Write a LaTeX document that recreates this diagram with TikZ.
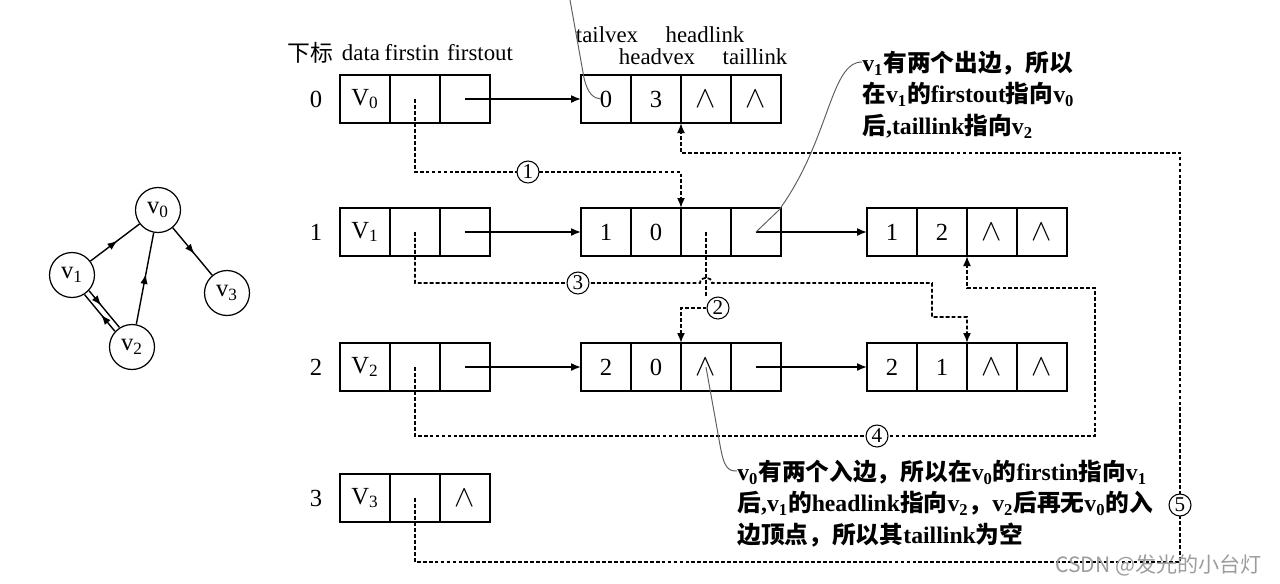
\documentclass[tikz,border=0pt]{standalone}
\usepackage{fontspec}
\setmainfont{Liberation Serif}
\newfontfamily\cjk{Noto Sans CJK SC}
\usetikzlibrary{positioning,arrows.meta,decorations.markings}
\definecolor{notegray}{HTML}{5E5E5E}
\definecolor{markgray}{HTML}{9C9C9C}
\newcommand{\zh}[1]{{\cjk #1}}
\newcommand{\nullp}{{\fontsize{17}{17}\selectfont$\wedge$}}
\tikzset{
  cell/.style={draw,line width=0.9pt,minimum width=1cm,minimum height=0.96cm,
    inner sep=0pt,outer sep=0pt,font=\fontsize{14}{16}\selectfont},
  idx/.style={font=\fontsize{14}{16}\selectfont},
  head/.style={inner sep=0pt,font=\fontsize{13}{15}\selectfont},
  ptr/.style={-{Latex[length=2mm,width=1.6mm]},line width=0.9pt},
  link/.style={line width=1pt,dash pattern=on 2.2pt off 1.2pt},
  tip/.style={-{Latex[length=2mm,width=1.6mm]}},
  num/.style={circle,draw,fill=white,line width=0.6pt,inner sep=0pt,
    minimum size=0.44cm,font=\fontsize{12}{12}\selectfont},
  callout/.style={draw=notegray,line width=0.55pt},
  note/.style={align=left,anchor=north west,inner sep=0pt,
    font=\fontsize{13.5}{17.8}\selectfont\bfseries},
  gnode/.style={circle,draw,line width=0.7pt,minimum size=0.9cm,inner sep=0pt,
    font=\fontsize{14}{16}\selectfont},
  gedge/.style={line width=0.8pt},
  midarrow/.style={postaction={decorate},decoration={markings,
    mark=at position #1 with {\arrow{Latex[length=2mm,width=1.5mm]}}}},
  midarrow/.default=0.55
}
\begin{document}
\begin{tikzpicture}[x=0.02cm,y=-0.02cm]
  \useasboundingbox (0,0) rectangle (1280,583);
  \node[gnode] (v0) at (158,210) {v\textsubscript{0}};
  \node[gnode] (v1) at (72,275) {v\textsubscript{1}};
  \node[gnode] (v2) at (132,347) {v\textsubscript{2}};
  \node[gnode] (v3) at (227,293) {v\textsubscript{3}};
  \draw[gedge,midarrow] (v1) -- (v0);
  \draw[gedge,midarrow] (v2) -- (v0);
  \draw[gedge,midarrow] (v0) -- (v3);
  \draw[gedge,midarrow=0.4] ([shift={(2.3,-1.9)}]v1.-50) -- ([shift={(2.3,-1.9)}]v2.130);
  \draw[gedge,midarrow=0.45] ([shift={(-2.3,1.9)}]v2.130) -- ([shift={(-2.3,1.9)}]v1.-50);

  \node[head] (hsub) at (310,53) {\zh{下标}};
  \node[head] (hdata) at (361,53) {data};
  \node[head] (hin) at (412,53) {firstin};
  \node[head] (hout) at (480,53) {firstout};
  \node[head] (htv) at (607,35) {tailvex};
  \node[head] (hhl) at (705,35) {headlink};
  \node[head] (hhv) at (657,57) {headvex};
  \node[head] (htl) at (755,57) {taillink};

  \foreach \r/\y/\c in {0/99/{},1/232/{},2/367/{},3/498/\nullp}{
    \node[idx] (ix\r) at (316,\y) {\r};
    \node[cell] (fd\r) at (365,\y) {V\textsubscript{\r}};
    \node[cell,right=0pt of fd\r] (fi\r) {};
    \node[cell,right=0pt of fi\r] (fo\r) {\c};
  }
  \foreach \n/\xx/\y/\cA/\cB/\cC/\cD in {a0/606/99/0/3/\nullp/\nullp,
      a1/606/232/1/0/{}/{}, a2/606/367/2/0/\nullp/{},
      b1/892/232/1/2/\nullp/\nullp, b2/892/367/2/1/\nullp/\nullp}{
    \node[cell] (\n-1) at (\xx,\y) {\cA};
    \node[cell,right=0pt of \n-1] (\n-2) {\cB};
    \node[cell,right=0pt of \n-2] (\n-3) {\cC};
    \node[cell,right=0pt of \n-3] (\n-4) {\cD};
  }
  \foreach \r in {0,1,2} \draw[ptr] (fo\r.center) -- (a\r-1.west);
  \foreach \r in {1,2} \draw[ptr] (a\r-4.center) -- (b\r-1.west);

  \node[num] (n2) at (718,308) {2};
  \draw[link,tip] (fi0.center) |- (a1-2.north east |- 0,172) -- (a1-2.north east);
  \draw[link] (a1-3.center) -- (a1-3.center |- n2.north);
  \draw[link,tip] (n2.west) -| (a2-2.north east);
  \draw[link,tip] (fi1.center) |- (700,283) .. controls (700,276) and (712,276) .. (712,283)
    -| (932,317) -- (b2-2.north east |- 0,317) -- (b2-2.north east);
  \draw[link,tip] (fi2.center) |- (1095,436) |- (b1-2.south east |- 0,288) -- (b1-2.south east);
  \draw[link,tip] (fi3.center) |- (1180,562) |- (a0-2.south east |- 0,153) -- (a0-2.south east);
  \node[num] (n1) at (528,172) {1};
  \node[num] (n3) at (578,283) {3};
  \node[num] (n4) at (877,436) {4};
  \node[num] (n5) at (1180,505) {5};

  \coordinate (ctop) at (570,0);
  \draw[callout] (ctop) -- (584,78) .. controls (588,95) and (594,98) .. ([xshift=-3pt]a0-1.center);
  \node[note] (nout) at (862,51) {v\textsubscript{1}\zh{有两个出边，所以}\\
    \zh{在}v\textsubscript{1}\zh{的}firstout\zh{指向}v\textsubscript{0}\\
    \zh{后},taillink\zh{指向}v\textsubscript{2}};
  \draw[callout] (a1-4.center) -- (779,210) .. controls (830,140) and (830,62) .. (nout.north west |- 0,62);
  \node[note] (nin) at (737,460) {v\textsubscript{0}\zh{有两个入边，所以在}v\textsubscript{0}\zh{的}firstin\zh{指向}v\textsubscript{1}\\
    \zh{后},v\textsubscript{1}\zh{的}headlink\zh{指向}v\textsubscript{2}\zh{，}v\textsubscript{2}\zh{后再无}v\textsubscript{0}\zh{的入}\\
    \zh{边顶点，所以其}taillink\zh{为空}};
  \draw[callout] (a2-3.center) -- (720,445) .. controls (724,468) and (728,471) .. (nin.north west |- 0,471);
  \node[anchor=east,text=markgray,font=\cjk\fontsize{12}{12}\selectfont] (mark) at (1268,565) {CSDN @发光的小台灯};
\end{tikzpicture}
\end{document}
